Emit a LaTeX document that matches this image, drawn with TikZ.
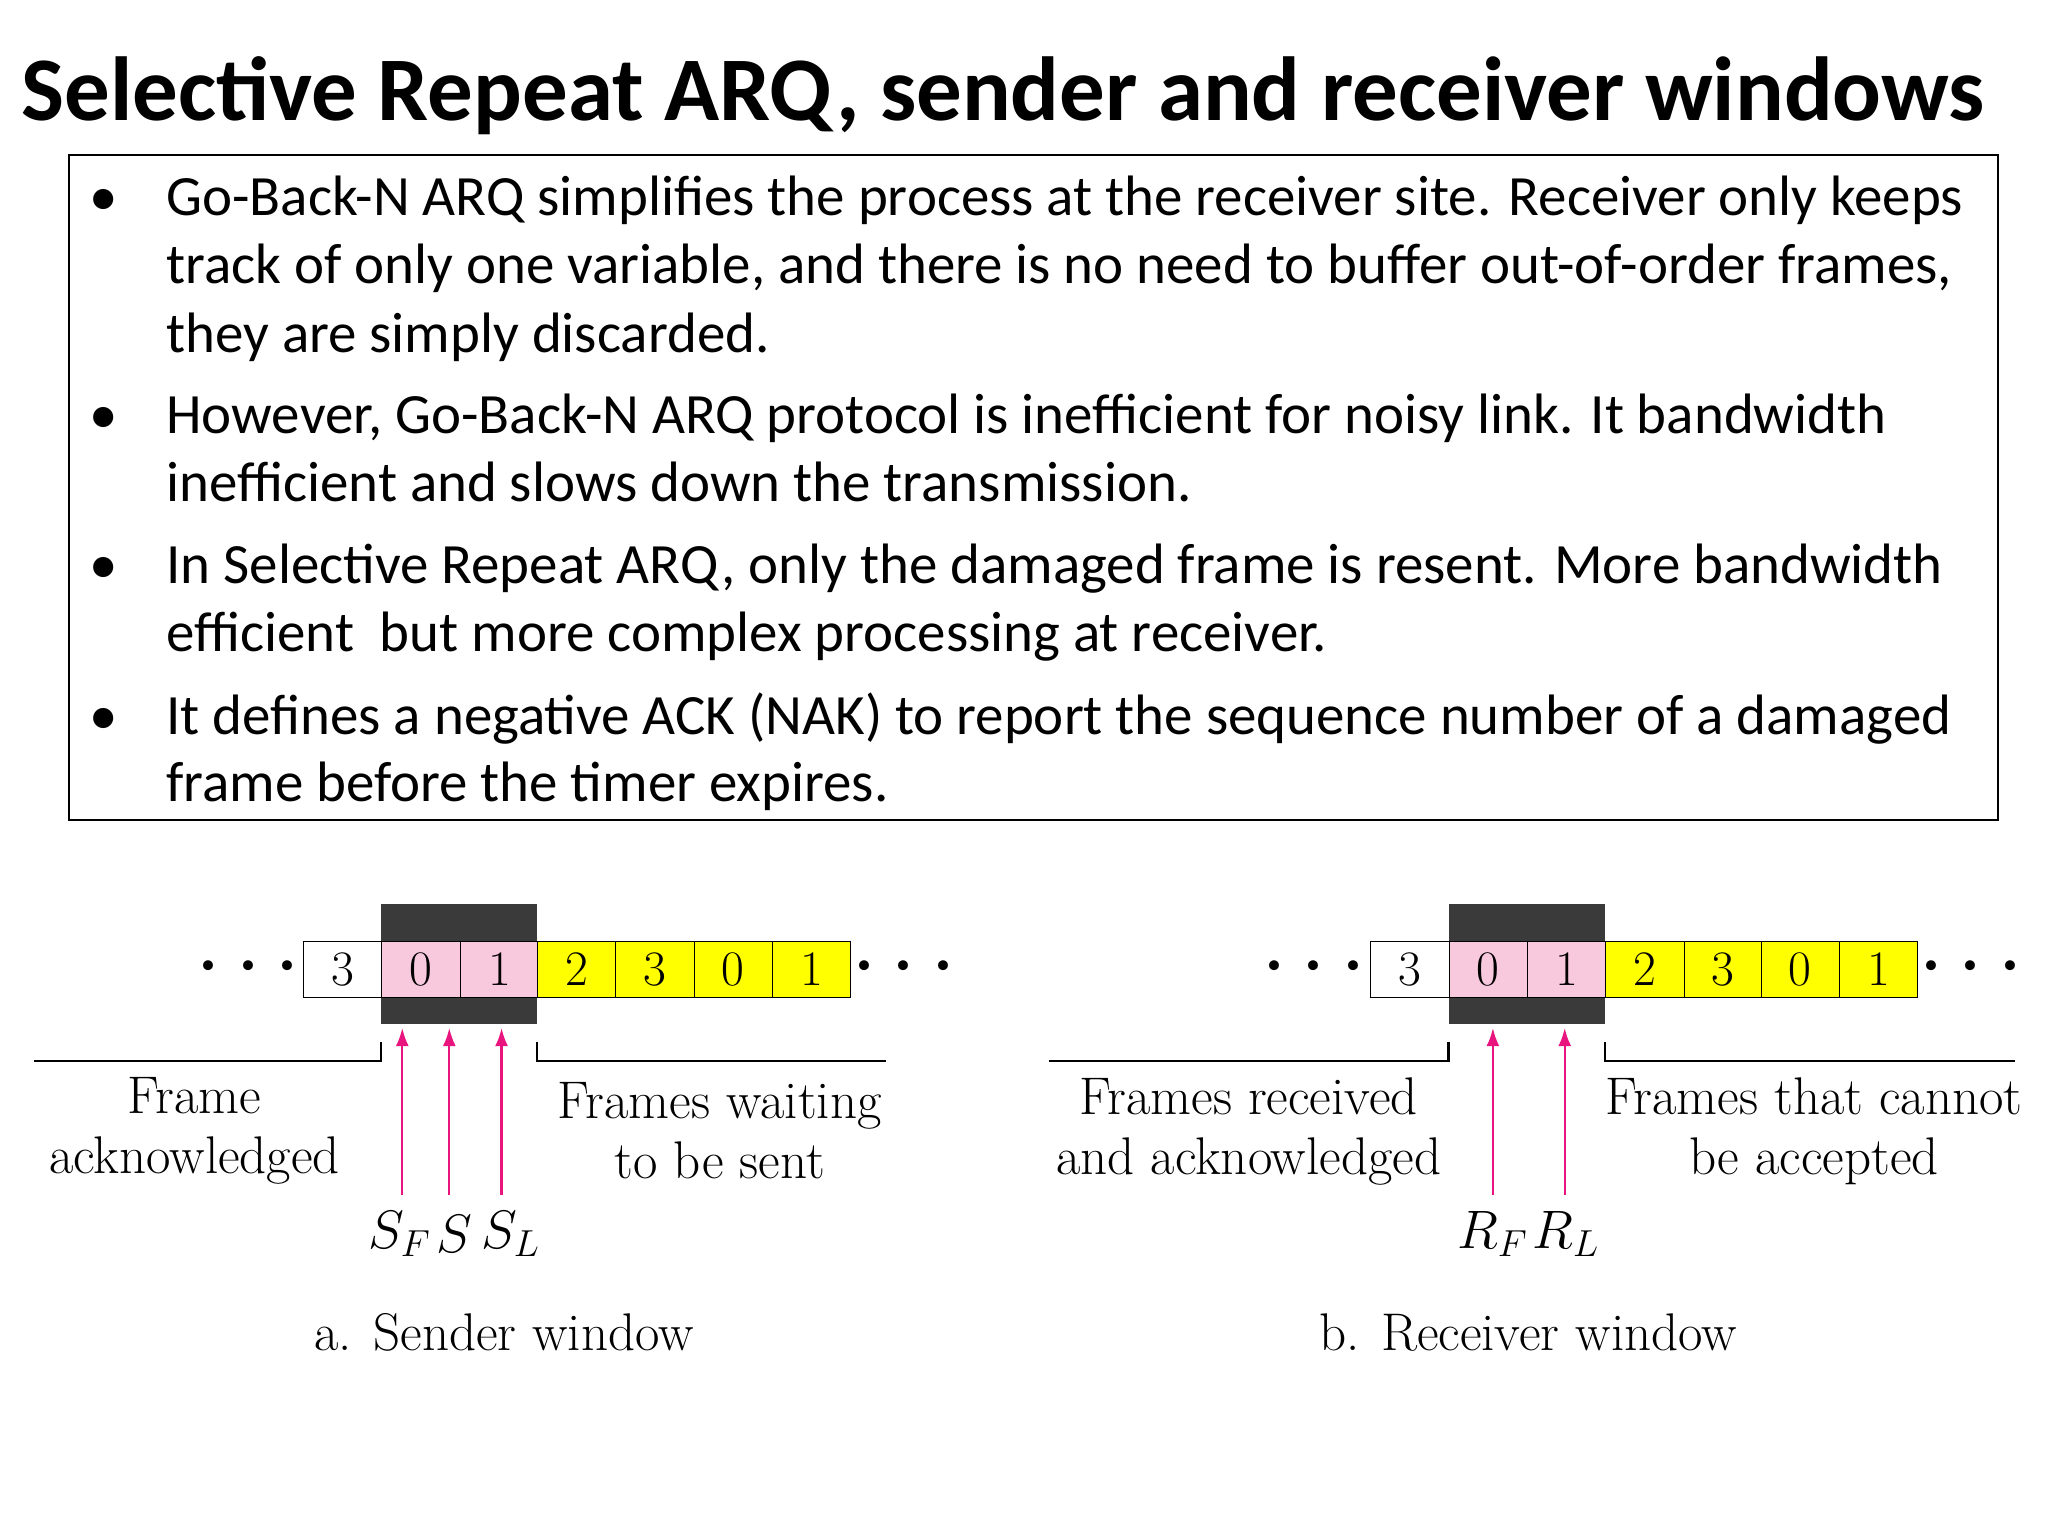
\documentclass[tikz,border=0pt]{standalone}
\usepackage{fontspec}
\newfontfamily\calfont{Carlito}
\usetikzlibrary{arrows.meta}
\definecolor{dk}{HTML}{3A3A3A}
\definecolor{pk}{HTML}{F8C8DC}
\definecolor{yl}{HTML}{FFFF00}
\definecolor{ar}{HTML}{E8157E}
\begin{document}
\begin{tikzpicture}[x=0.5pt,y=-0.5pt,
 body/.style={anchor=base west,inner sep=0,font=\calfont\fontsize{21.8}{21.8}\selectfont},
 cell/.style={draw,minimum width=30pt,minimum height=21.5pt,inner sep=0,anchor=west,font=\fontsize{19}{19}\selectfont},
 lbl/.style={align=center,inner sep=0,font=\fontsize{20.3}{23}\selectfont},
 arr/.style={ar,line width=0.9pt,-{Latex[length=7pt,width=5pt]}},
 dots/.style={inner sep=0,font=\fontsize{17}{17}\selectfont}]
\useasboundingbox (0,0) rectangle (1568,1176);
\node[anchor=base west,inner sep=0,font=\calfont\bfseries\fontsize{34.8}{34.8}\selectfont] (title) at (16,92) {Selective Repeat ARQ, sender and receiver windows};
\node[draw,thick,minimum width=738.5pt,minimum height=254.5pt,anchor=north west,inner sep=0] (box) at (52,118) {};
\foreach \y in {165,332,447,562}{\node[body] at (68,\y) {\textbullet};}
\node[body] (l1) at (127,165) {Go-Back-N ARQ simplifies the process at the receiver site. Receiver only keeps};
\node[body] (l2) at (127,217) {track of only one variable, and there is no need to buffer out-of-order frames,};
\node[body] (l3) at (127,270) {they are simply discarded.};
\node[body] (l4) at (127,332) {However, Go-Back-N ARQ protocol is inefficient for noisy link. It bandwidth};
\node[body] (l5) at (127,384) {inefficient and slows down the transmission.};
\node[body] (l6) at (127,447) {In Selective Repeat ARQ, only the damaged frame is resent. More bandwidth};
\node[body] (l7) at (127,499) {efficient\ \ but more complex processing at receiver.};
\node[body] (l8) at (127,562) {It defines a negative ACK (NAK) to report the sequence number of a damaged};
\node[body] (l9) at (127,614) {frame before the timer expires.};
% sender
\fill[dk] (292,692) rectangle (411,784);
\foreach \x/\t/\c in {232/3/white,292/0/pk,352/1/pk,411/2/yl,471/3/yl,531/0/yl,591/1/yl}
  {\node[cell,fill=\c] at (\x,742) {\t};}
\node[dots] (d1) at (190,742) {\textbullet\,\textbullet\,\textbullet};
\node[dots] (d2) at (692,742) {\textbullet\,\textbullet\,\textbullet};
\draw[thick] (26,812) -- (292,812) -- (292,798);
\draw[thick] (411,798) -- (411,812) -- (678,812);
\coordinate (sa) at (308,787); \coordinate (sb) at (344,787); \coordinate (sc) at (384,787);
\node[lbl] (sf) at (306,945) {$S_F$};
\node[lbl] (ss) at (348,945) {$S$};
\node[lbl] (sl) at (391,945) {$S_L$};
\draw[arr] (308,915) -- (sa);
\draw[arr] (344,915) -- (sb);
\draw[arr] (384,915) -- (sc);
\node[lbl] (fa) at (149,866) {Frame\\acknowledged};
\node[lbl] (fw) at (551,866) {Frames waiting\\to be sent};
\node[lbl] (ca) at (386,1020) {a. Sender window};
% receiver
\fill[dk] (1109,692) rectangle (1229,784);
\foreach \x/\t/\c in {1049/3/white,1109/0/pk,1169/1/pk,1229/2/yl,1289/3/yl,1348/0/yl,1408/1/yl}
  {\node[cell,fill=\c] at (\x,742) {\t};}
\node[dots] (d3) at (1006,742) {\textbullet\,\textbullet\,\textbullet};
\node[dots] (d4) at (1509,742) {\textbullet\,\textbullet\,\textbullet};
\draw[thick] (803,812) -- (1109,812) -- (1109,798);
\draw[thick] (1229,798) -- (1229,812) -- (1543,812);
\coordinate (ra) at (1143,787); \coordinate (rb) at (1198,787);
\node[lbl] (rf) at (1143,945) {$R_F$};
\node[lbl] (rl) at (1199,945) {$R_L$};
\draw[arr] (1143,915) -- (ra);
\draw[arr] (1198,915) -- (rb);
\node[lbl] (fr) at (956,866) {Frames received\\and acknowledged};
\node[lbl] (fc) at (1389,866) {Frames that cannot\\be accepted};
\node[lbl] (cb) at (1170,1020) {b. Receiver window};
\end{tikzpicture}
\end{document}
